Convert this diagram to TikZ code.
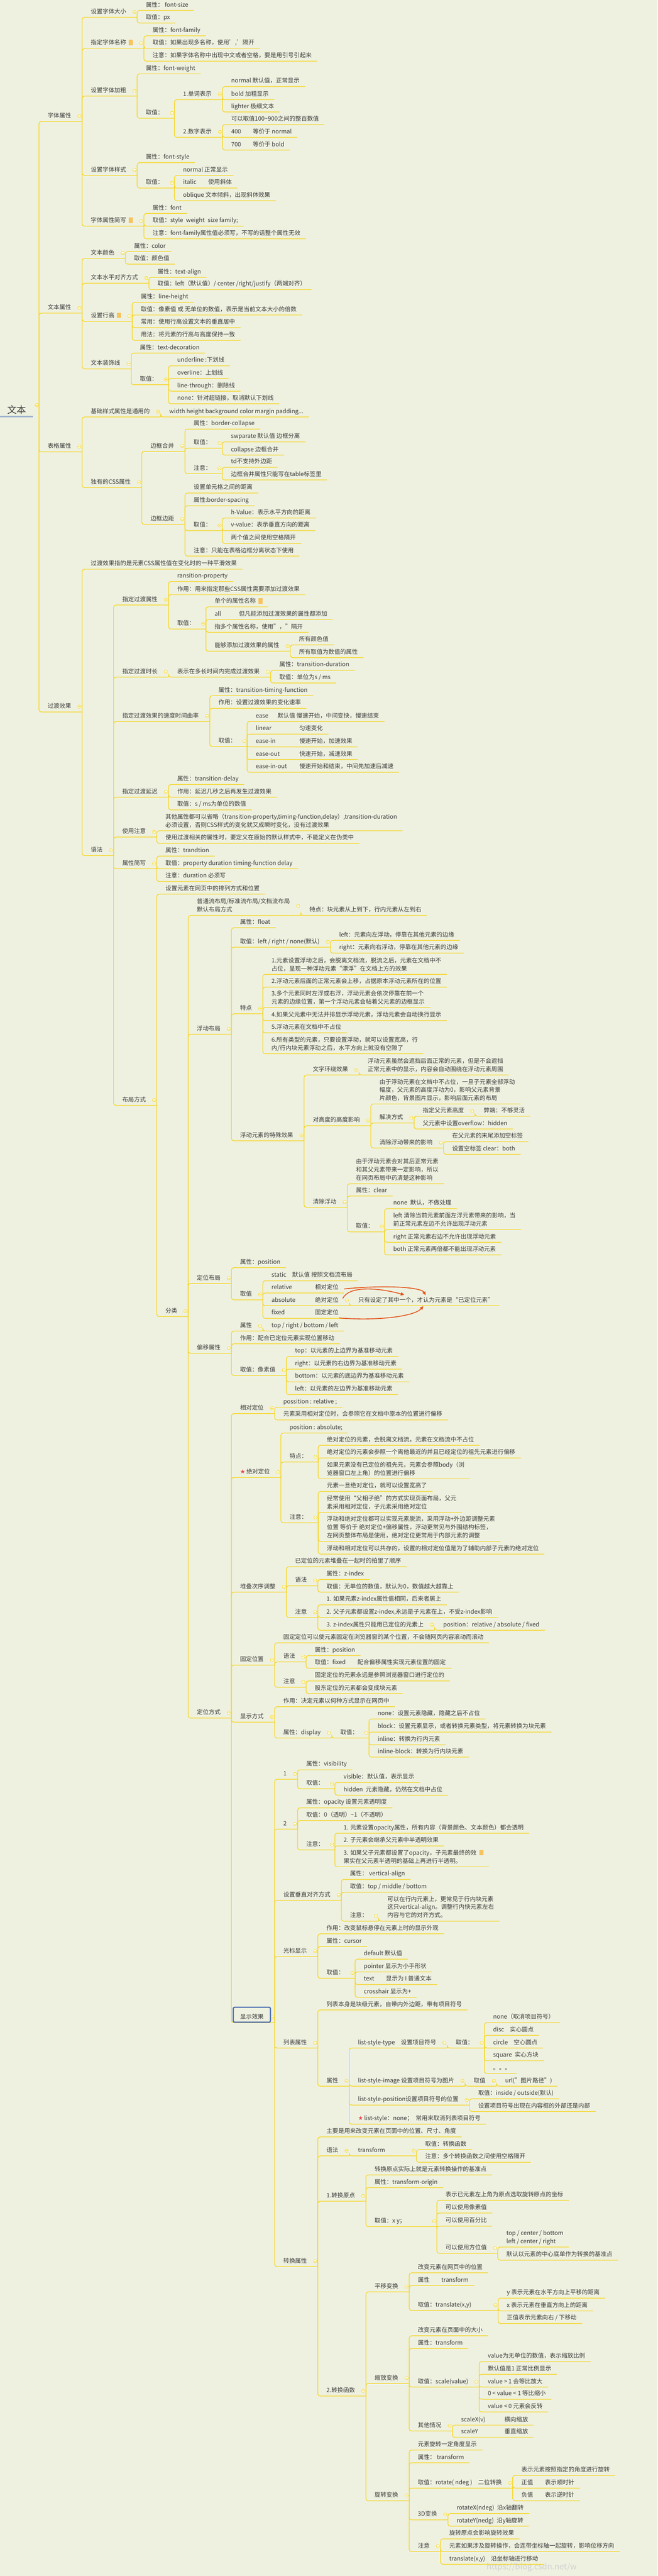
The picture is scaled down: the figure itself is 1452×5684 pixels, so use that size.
\documentclass[tikz,border=0pt]{standalone}
\usepackage{fontspec}
\setmainfont{Noto Sans CJK SC}
\newfontfamily\dejavu{DejaVu Sans}
\usetikzlibrary{calc,arrows.meta}
\definecolor{bgc}{HTML}{EEF1E0}
\definecolor{lnc}{HTML}{F7D51E}
\definecolor{txc}{HTML}{3A3A3A}
\definecolor{rootc}{HTML}{9FB3CF}
\definecolor{docc}{HTML}{F6C35C}
\definecolor{starc}{HTML}{E8474A}
\definecolor{arrc}{HTML}{E2541B}
\definecolor{boxc}{HTML}{4A6BB3}
\newcommand\docic{\hspace{6pt}{\color{docc}\rule[-1pt]{9pt}{12pt}}}
\newcommand\rstar{{\color{starc}\dejavu ★}\,}
\newcommand\Lf[4]{\path (0,-#3) coordinate (tmp);
 \node[mm] (#1) at (#2.south east |- tmp) {\hspace*{19pt}\begin{tabular}{@{}l@{}}#4\end{tabular}\hspace*{12pt}};
 \draw[ln] (#2.south east) -- (#1.south west) -- (#1.south east);}
\newcommand\Pn[4]{\path (0,-#3) coordinate (tmp);
 \node[mm] (#1) at (#2.south east |- tmp) {\hspace*{19pt}\begin{tabular}{@{}l@{}}#4\end{tabular}\hspace*{24pt}};
 \draw[ln] (#2.south east) -- (#1.south west) -- (#1.south east);
 \draw[circ] ($(#1.east)+(-6,0)$) circle (3.6);
 \draw[lnc,line width=0.7pt] ($(#1.east)+(-8,0)$) -- ++(4,0);}
\tikzset{
 mm/.style={anchor=south west,inner xsep=0pt,inner ysep=2.5pt,text=txc,font=\fontsize{13}{18}\selectfont},
 ln/.style={draw=lnc,line width=1.4pt,rounded corners=5pt},
 circ/.style={draw=lnc,fill=white,line width=0.8pt},
 redarr/.style={draw=arrc,line width=1.8pt,-{Triangle[length=8pt,width=7pt]}}
}
\begin{document}
\begin{tikzpicture}[x=1pt,y=1pt]
\fill[bgc] (0,0) rectangle (1452,-5684);
\useasboundingbox (0,0) rectangle (1452,-5684);
% root
\node[anchor=south west,inner sep=0pt,inner ysep=5pt,text=txc,font=\fontsize{21}{24}\selectfont] (r) at (0,-919) {\hspace*{16pt}文本\hspace*{28pt}};
\draw[rootc,line width=3.5pt] (r.south west) -- ++(73,0);
\draw[circ] (81,-894) circle (3.6);
\draw[lnc,line width=0.7pt] (79,-894) -- ++(4,0);
\coordinate (rs) at (86,-919);
% ---------- 字体属性
\Pn{A}{rs}{268}{字体属性}
\Pn{A1}{A}{38}{设置字体大小}
\Lf{A1a}{A1}{23}{属性： font-size}
\Lf{A1b}{A1}{51}{取值：px}
\Pn{A2}{A}{107}{指定字体名称\docic}
\Lf{A2a}{A2}{79}{属性：font-family}
\Lf{A2b}{A2}{107}{取值：如果出现多名称，使用','隔开}
\Lf{A2c}{A2}{135}{注意：如果字体名称中出现中文或者空格，要是用引号引起来}
\Pn{A3}{A}{212}{设置字体加粗}
\Lf{A3a}{A3}{163}{属性：font-weight}
\Pn{A3b}{A3}{261}{取值：}
\Pn{A3c}{A3b}{220}{1.单词表示}
\Lf{A3c1}{A3c}{191}{normal 默认值，正常显示}
\Lf{A3c2}{A3c}{220}{bold 加粗显示}
\Lf{A3c3}{A3c}{247}{lighter 极细文本}
\Pn{A3d}{A3b}{303}{2.数字表示}
\Lf{A3d1}{A3d}{275}{可以取值100\textasciitilde900之间的整百数值}
\Lf{A3d2}{A3d}{303}{400\qquad 等价于 normal}
\Lf{A3d3}{A3d}{331}{700\qquad 等价于 bold}
\Pn{A4}{A}{387}{设置字体样式}
\Lf{A4a}{A4}{359}{属性：font-style}
\Pn{A4b}{A4}{415}{取值：}
\Lf{A4b1}{A4b}{387}{normal 正常显示}
\Lf{A4b2}{A4b}{415}{italic\qquad 使用斜体}
\Lf{A4b3}{A4b}{443}{oblique 文本倾斜，出现斜体效果}
\Pn{A5}{A}{499}{字体属性简写\docic}
\Lf{A5a}{A5}{471}{属性：font}
\Lf{A5b}{A5}{499}{取值：style\enspace weight\enspace size family;}
\Lf{A5c}{A5}{527}{注意：font-family属性值必须写，不写的话整个属性无效}
% ---------- 文本属性
\Pn{B}{rs}{691}{文本属性}
\Pn{B1}{B}{570}{文本颜色}
\Lf{B1a}{B1}{555}{属性：color}
\Lf{B1b}{B1}{583}{取值：颜色值}
\Pn{B2}{B}{625}{文本水平对齐方式}
\Lf{B2a}{B2}{612}{属性：text-align}
\Lf{B2b}{B2}{639}{取值：left（默认值）/ center /right/justify（两端对齐）}
\Pn{B3}{B}{709}{设置行高\docic}
\Lf{B3a}{B3}{667}{属性：line-height}
\Lf{B3b}{B3}{695}{取值：像素值 或 无单位的数值，表示是当前文本大小的倍数}
\Lf{B3c}{B3}{723}{常用：使用行高设置文本的垂直居中}
\Lf{B3d}{B3}{751}{用法：将元素的行高与高度保持一致}
\Pn{B4}{B}{814}{文本装饰线}
\Lf{B4a}{B4}{779}{属性：text-decoration}
\Pn{B4b}{B4}{849}{取值：}
\Lf{B4b1}{B4b}{807}{underline :下划线}
\Lf{B4b2}{B4b}{835}{overline：上划线}
\Lf{B4b3}{B4b}{863}{line-through：删除线}
\Lf{B4b4}{B4b}{891}{none：针对超链接，取消默认下划线}
% ---------- 表格属性
\Pn{C}{rs}{997}{表格属性}
\Pn{C1}{C}{920}{基础样式属性是通用的}
\Lf{C1a}{C1}{920}{width height background color margin padding...}
\Pn{C2}{C}{1076}{独有的CSS属性}
\Pn{C21}{C2}{996}{边框合并}
\Lf{C21a}{C21}{947}{属性：border-collapse}
\Pn{C21b}{C21}{989}{取值：}
\Lf{C21b1}{C21b}{975}{swparate 默认值 边框分离}
\Lf{C21b2}{C21b}{1004}{collapse 边框合并}
\Pn{C21c}{C21}{1045}{注意：}
\Lf{C21c1}{C21c}{1031}{td不支持外边距}
\Lf{C21c2}{C21c}{1059}{边框合并属性只能写在table标签里}
\Pn{C22}{C2}{1157}{边框边距}
\Lf{C22a}{C22}{1088}{设置单元格之间的距离}
\Lf{C22b}{C22}{1116}{属性:border-spacing}
\Pn{C22c}{C22}{1171}{取值：}
\Lf{C22c1}{C22c}{1143}{h-Value：表示水平方向的距离}
\Lf{C22c2}{C22c}{1171}{v-value：表示垂直方向的距离}
\Lf{C22c3}{C22c}{1199}{两个值之间使用空格隔开}
\Lf{C22d}{C22}{1227}{注意：只能在表格边框分离状态下使用}
% ---------- 过渡效果
\Pn{D}{rs}{1571}{过渡效果}
\Lf{D0}{D}{1256}{过渡效果指的是元素CSS属性值在变化时的一种平滑效果}
\Pn{D1}{D}{1888}{语法}
\Pn{D11}{D1}{1335}{指定过渡属性}
\Lf{D11a}{D11}{1283}{ransition-property}
\Lf{D11b}{D11}{1312}{作用：用来指定那些CSS属性需要添加过渡效果}
\Pn{D11c}{D11}{1388}{取值：}
\Lf{D11c1}{D11c}{1339}{单个的属性名称\docic}
\Lf{D11c2}{D11c}{1367}{all\qquad\quad 但凡能添加过渡效果的属性都添加}
\Lf{D11c3}{D11c}{1395}{指多个属性名称，使用"，"隔开}
\Pn{D11c4}{D11c}{1437}{能够添加过渡效果的属性}
\Lf{D11c4a}{D11c4}{1423}{所有颜色值}
\Lf{D11c4b}{D11c4}{1451}{所有取值为数值的属性}
\Pn{D12}{D1}{1494}{指定过渡时长}
\Pn{D12a}{D12}{1494}{表示在多长时间内完成过渡效果}
\Lf{D12a1}{D12a}{1479}{属性：transition-duration}
\Lf{D12a2}{D12a}{1507}{取值：单位为s / ms}
\Pn{D13}{D1}{1592}{指定过渡效果的速度时间曲率}
\Lf{D13a}{D13}{1535}{属性：transition-timing-function}
\Lf{D13b}{D13}{1563}{作用：设置过渡效果的变化速率}
\Pn{D13c}{D13}{1647}{取值：}
\Lf{D13c1}{D13c}{1592}{\makebox[48pt][l]{ease}默认值 慢速开始，中间变快，慢速结束}
\Lf{D13c2}{D13c}{1620}{\makebox[96pt][l]{linear}匀速变化}
\Lf{D13c3}{D13c}{1648}{\makebox[96pt][l]{ease-in}慢速开始，加速效果}
\Lf{D13c4}{D13c}{1676}{\makebox[96pt][l]{ease-out}快速开始，减速效果}
\Lf{D13c5}{D13c}{1704}{\makebox[96pt][l]{ease-in-out}慢速开始和结束，中间先加速后减速}
\Pn{D14}{D1}{1759}{指定过渡延迟}
\Lf{D14a}{D14}{1731}{属性：transition-delay}
\Lf{D14b}{D14}{1759}{作用：延迟几秒之后再发生过渡效果}
\Lf{D14c}{D14}{1787}{取值：s / ms为单位的数值}
\Pn{D15}{D1}{1847}{使用注意}
\Lf{D15a}{D15}{1833}{其他属性都可以省略（transition-property,timing-function,delay）,transition-duration\\必须设置，否则CSS样式的变化就又成瞬时变化，没有过渡效果}
\Lf{D15b}{D15}{1861}{使用过渡相关的属性时，要定义在原始的默认样式中，不能定义在伪类中}
\Pn{D16}{D1}{1917}{属性简写}
\Lf{D16a}{D16}{1889}{属性：trandtion}
\Lf{D16b}{D16}{1917}{取值：property duration timing-function delay}
\Lf{D16c}{D16}{1945}{注意：duration 必须写}
% ---------- 布局方式
\Pn{E}{D1}{2439}{布局方式}
\Lf{E0}{E}{1973}{设置元素在网页中的排列方式和位置}
\Pn{F}{E}{2905}{分类}
\Pn{F1}{F}{2020}{普通流布局/标准流布局/文档流布局\\默认布局方式}
\Lf{F1a}{F1}{2020}{特点：块元素从上到下，行内元素从左到右}
\Pn{F2}{F}{2282}{浮动布局}
\Lf{F2a}{F2}{2047}{属性：float}
\Pn{F2b}{F2}{2090}{取值：left / right / none(默认)}
\Lf{F2b1}{F2b}{2075}{left：元素向左浮动，停靠在其他元素的边缘}
\Lf{F2b2}{F2b}{2103}{right：元素向右浮动，停靠在其他元素的边缘}
\Pn{F2c}{F2}{2237}{特点}
\Lf{F2c1}{F2c}{2150}{1.元素设置浮动之后，会脱离文档流，脱流之后，元素在文档中不\\占位，呈现一种浮动元素“漂浮”在文档上方的效果}
\Lf{F2c2}{F2c}{2178}{2.浮动元素后面的正常元素会上移，占据原本浮动元素所在的位置}
\Lf{F2c3}{F2c}{2223}{3.多个元素同时左浮或右浮，浮动元素会依次停靠在前一个\\元素的边缘位置，第一个浮动元素会帖着父元素的边框显示}
\Lf{F2c4}{F2c}{2252}{4.如果父元素中无法并排显示浮动元素，浮动元素会自动换行显示}
\Lf{F2c5}{F2c}{2279}{5.浮动元素在文档中不占位}
\Lf{F2c6}{F2c}{2325}{6.所有类型的元素，只要设置浮动，就可以设置宽高，行\\内/行内块元素浮动之后，水平方向上就没有空隙了}
\Pn{F2d}{F2}{2517}{浮动元素的特殊效果}
\Pn{F2d1}{F2d}{2372}{文字环绕效果}
\Lf{F2d1a}{F2d1}{2372}{浮动元素虽然会遮挡后面正常的元素，但是不会遮挡\\正常元素中的显示，内容会自动围绕在浮动元素周围}
\Pn{F2d2}{F2d}{2484}{对高度的高度影响}
\Lf{F2d2a}{F2d2}{2436}{由于浮动元素在文档中不占位，一旦子元素全部浮动\\幅度，父元素的高度浮动为0，影响父元素背景\\片颜色，背景图片显示，影响后面元素的布局}
\Pn{F2d2b}{F2d2}{2478}{解决方式}
\Pn{F2d2b1}{F2d2b}{2463}{指定父元素高度}
\Lf{F2d2b1a}{F2d2b1}{2463}{弊端：不够灵活}
\Lf{F2d2b2}{F2d2b}{2491}{父元素中设置overflow：hidden}
\Pn{F2d2c}{F2d2}{2533}{清除浮动带来的影响}
\Lf{F2d2c1}{F2d2c}{2519}{在父元素的末尾添加空标签}
\Lf{F2d2c2}{F2d2c}{2547}{设置空标签 clear：both}
\Pn{F2d3}{F2d}{2664}{清除浮动}
\Lf{F2d3a}{F2d3}{2612}{由于浮动元素会对其后正常元素\\和其父元素带来一定影响，所以\\在网页布局中药清楚这种影响}
\Lf{F2d3b}{F2d3}{2639}{属性：clear}
\Pn{F2d3c}{F2d3}{2718}{取值：}
\Lf{F2d3c1}{F2d3c}{2667}{none\enspace 默认，不做处理}
\Lf{F2d3c2}{F2d3c}{2713}{left 清除当前元素前面左浮元素带来的影响，当\\前正常元素左边不允许出现浮动元素}
\Lf{F2d3c3}{F2d3c}{2741}{right 正常元素右边不允许出现浮动元素}
\Lf{F2d3c4}{F2d3c}{2769}{both 正常元素两倍都不能出现浮动元素}
\Pn{F3}{F}{2832}{定位布局}
\Lf{F3a}{F3}{2797}{属性：position}
\Pn{F3b}{F3}{2868}{取值}
\Lf{F3b1}{F3b}{2826}{static\quad 默认值 按照文档流布局}
\Lf{relN}{F3b}{2853}{\makebox[96pt][l]{relative}相对定位}
\Pn{absN}{F3b}{2881}{\makebox[96pt][l]{absolute}绝对定位}
\Lf{absc}{absN}{2881}{只有设定了其中一个，才认为元素是“已定位元素”}
\Lf{fixN}{F3b}{2909}{\makebox[96pt][l]{fixed}固定定位}
\Pn{F4}{F}{2986}{偏移属性}
\Pn{F4a}{F4}{2937}{属性}
\Lf{F4a1}{F4a}{2937}{top / right / bottom / left}
\Lf{F4b}{F4}{2965}{作用：配合已定位元素实现位置移动}
\Pn{F4c}{F4}{3035}{取值：像素值}
\Lf{F4c1}{F4c}{2993}{top：以元素的上边界为基准移动元素}
\Lf{F4c2}{F4c}{3021}{right：以元素的右边界为基准移动元素}
\Lf{F4c3}{F4c}{3049}{bottom：以元素的底边界为基准移动元素}
\Lf{F4c4}{F4c}{3077}{left：以元素的左边界为基准移动元素}
% ---------- 定位方式
\Pn{G}{F}{3791}{定位方式}
\Pn{G1}{G}{3119}{相对定位}
\Lf{G1a}{G1}{3105}{possition : relative ;}
\Lf{G1b}{G1}{3133}{元素采用相对定位时，会参照它在文档中原本的位置进行偏移}
\Pn{G2}{G}{3260}{\rstar 绝对定位}
\Lf{G2a}{G2}{3162}{position : absolute;}
\Pn{G2b}{G2}{3226}{特点：}
\Lf{G2b1}{G2b}{3189}{绝对定位的元素，会脱离文档流，元素在文档流中不占位}
\Lf{G2b2}{G2b}{3217}{绝对定位的元素会参照一个离他最近的并且已经定位的祖先元素进行偏移}
\Lf{G2b3}{G2b}{3263}{如果元素没有已定位的祖先元，元素会参照body（浏\\览器窗口左上角）的位置进行偏移}
\Pn{G2c}{G2}{3360}{注意：}
\Lf{G2c1}{G2c}{3291}{元素一旦绝对定位，就可以设置宽高了}
\Lf{G2c2}{G2c}{3337}{经常使用“父相子绝”的方式实现页面布局，父元\\素采用相对定位，子元素采用绝对定位}
\Lf{G2c3}{G2c}{3401}{浮动和绝对定位都可以实现元素脱流，采用浮动+外边距调整元素\\位置 等价于 绝对定位+偏移属性，浮动更常见与外围结构标签，\\左网页整体布局是使用，绝对定位更常用于内部元素的调整}
\Lf{G2c4}{G2c}{3429}{浮动和相对定位可以共存的，设置的相对定位值是为了辅助内部子元素的绝对定位}
\Pn{G3}{G}{3513}{堆叠次序调整}
\Lf{G3a}{G3}{3457}{已定位的元素堆叠在一起时的拍里了顺序}
\Pn{G3b}{G3}{3499}{语法}
\Lf{G3b1}{G3b}{3485}{属性：z-index}
\Lf{G3b2}{G3b}{3513}{取值：无单位的数值，默认为0，数值越大越靠上}
\Pn{G3c}{G3}{3569}{注意}
\Lf{G3c1}{G3c}{3541}{1. 如果元素z-index属性值相同，后来者居上}
\Lf{G3c2}{G3c}{3569}{2. 父子元素都设置z-index,永远是子元素在上，不受z-index影响}
\Pn{G3c3}{G3c}{3597}{3. z-index属性只能用已定位的元素上}
\Lf{G3c3a}{G3c3}{3597}{position：relative / absolute / fixed}
\Pn{G4}{G}{3674}{固定位置}
\Lf{G4a}{G4}{3625}{固定定位可以使元素固定在浏览器窗的某个位置，不会随网页内容滚动而滚动}
\Pn{G4b}{G4}{3667}{语法}
\Lf{G4b1}{G4b}{3653}{属性：position}
\Lf{G4b2}{G4b}{3681}{取值：fixed\qquad 配合偏移属性实现元素位置的固定}
\Pn{G4c}{G4}{3723}{注意}
\Lf{G4c1}{G4c}{3709}{固定定位的元素永远是参照浏览器窗口进行定位的}
\Lf{G4c2}{G4c}{3737}{股东定位的元素都会变成块元素}
\Pn{G5}{G}{3800}{显示方式}
\Lf{G5a}{G5}{3766}{作用：决定元素以何种方式显示在网页中}
\Pn{G5b}{G5}{3835}{属性：display}
\Pn{G5c}{G5b}{3835}{取值：}
\Lf{G5c1}{G5c}{3793}{none：设置元素隐藏，隐藏之后不占位}
\Lf{G5c2}{G5c}{3822}{block：设置元素显示，或者转换元素类型，将元素转换为块元素}
\Lf{G5c3}{G5c}{3850}{inline：转换为行内元素}
\Lf{G5c4}{G5c}{3877}{inline-block：转换为行内块元素}
% ---------- 显示效果
\Pn{H}{G}{4463}{显示效果}
\draw[boxc,line width=2.6pt,rounded corners=3pt] ($(H.south west)+(4,1)$) rectangle ($(H.south west)+(86,34)$);
\Pn{H1}{H}{3926}{1}
\Lf{H1a}{H1}{3905}{属性：visibility}
\Pn{H1b}{H1}{3947}{取值：}
\Lf{H1b1}{H1b}{3933}{visible：默认值，表示显示}
\Lf{H1b2}{H1b}{3961}{hidden\enspace 元素隐藏，仍然在文档中占位}
\Pn{H2}{H}{4036}{2}
\Lf{H2a}{H2}{3989}{属性：opacity 设置元素透明度}
\Lf{H2b}{H2}{4017}{取值：0（透明）\textasciitilde 1（不透明）}
\Pn{H2c}{H2}{4082}{注意：}
\Lf{H2c1}{H2c}{4045}{1. 元素设置opacity属性，所有内容（背景颜色、文本颜色）都会透明}
\Lf{H2c2}{H2c}{4073}{2. 子元素会继承父元素中半透明效果}
\Lf{H2c3}{H2c}{4119}{3. 如果父子元素都设置了opacity，子元素最终的效\docic\\果实在父元素半透明的基础上再进行半透明。}
\Pn{H3}{H}{4193}{设置垂直对齐方式}
\Lf{H3a}{H3}{4147}{属性： vertical-align}
\Lf{H3b}{H3}{4175}{取值：top / middle / bottom}
\Pn{H3c}{H3}{4239}{注意：}
\Lf{H3c1}{H3c}{4239}{可以在行内元素上，更常见于行内块元素\\这只vertical-align。调整行内快元素左右\\内容与它的对齐方式。}
\Pn{H4}{H}{4317}{光标显示}
\Lf{H4a}{H4}{4267}{作用：改变鼠标悬停在元素上时的显示外观}
\Lf{H4b}{H4}{4295}{属性：cursor}
\Pn{H4c}{H4}{4365}{取值：}
\Lf{H4c1}{H4c}{4323}{default 默认值}
\Lf{H4c2}{H4c}{4351}{pointer 显示为小手形状}
\Lf{H4c3}{H4c}{4379}{text\qquad 显示为 I 普通文本}
\Lf{H4c4}{H4c}{4407}{crosshair 显示为+}
\Pn{H5}{H}{4519}{列表属性}
\Lf{H5a}{H5}{4435}{列表本身是块级元素，自带内外边距，带有项目符号}
\Pn{H5b}{H5}{4603}{属性}
\Pn{H5b1}{H5b}{4519}{list-style-type\quad 设置项目符号}
\Pn{H5b1a}{H5b1}{4519}{取值：}
\Lf{H5b1a1}{H5b1a}{4463}{none（取消项目符号）}
\Lf{H5b1a2}{H5b1a}{4491}{disc\quad 实心圆点}
\Lf{H5b1a3}{H5b1a}{4519}{circle\quad 空心圆点}
\Lf{H5b1a4}{H5b1a}{4547}{square\enspace 实心方块}
\Lf{H5b1a5}{H5b1a}{4575}{。。。}
\Pn{H5b2}{H5b}{4603}{list-style-image 设置项目符号为图片}
\Pn{H5b2a}{H5b2}{4603}{取值}
\Lf{H5b2a1}{H5b2a}{4603}{url("图片路径")}
\Pn{H5b3}{H5b}{4645}{list-style-position设置项目符号的位置}
\Lf{H5b3a}{H5b3}{4631}{取值：inside / outside(默认)}
\Lf{H5b3b}{H5b3}{4659}{设置项目符号出现在内容框的外部还是内部}
\Lf{H5b4}{H5b}{4687}{\rstar list-style：none；\enspace 常用来取消列表项目符号}
% ---------- 转换属性
\Pn{K}{H}{5001}{转换属性}
\Lf{K0}{K}{4715}{主要是用来改变元素在页面中的位置、尺寸、角度}
\Pn{K1}{K}{4757}{语法}
\Pn{K1a}{K1}{4757}{transform\hspace*{45pt}}
\Lf{K1a1}{K1a}{4743}{取值：转换函数}
\Lf{K1a2}{K1a}{4771}{注意：多个转换函数之间使用空格隔开}
\Pn{K2}{K}{4857}{1.转换原点}
\Lf{K2a}{K2}{4799}{转换原点实际上就是元素转换操作的基准点}
\Lf{K2b}{K2}{4827}{属性：transform-origin}
\Pn{K2c}{K2}{4913}{取值：x y；\hspace*{45pt}}
\Lf{K2c1}{K2c}{4855}{表示已元素左上角为原点选取旋转原点的坐标}
\Lf{K2c2}{K2c}{4883}{可以使用像素值}
\Lf{K2c3}{K2c}{4912}{可以使用百分比}
\Pn{K2c4}{K2c}{4972}{可以使用方位值}
\Lf{K2c4a}{K2c4}{4958}{top / center / bottom\\left / center / right}
\Lf{K2c4b}{K2c4}{4987}{默认以元素的中心底单作为转换的基准点}
\Pn{K3}{K}{5287}{2.转换函数}
\Pn{T1}{K3}{5057}{平移变换}
\Lf{T1a}{T1}{5015}{改变元素在网页中的位置}
\Lf{T1b}{T1}{5043}{属性\qquad transform}
\Pn{T1c}{T1}{5098}{取值：translate(x,y)\hspace*{35pt}}
\Lf{T1c1}{T1c}{5071}{y 表示元素在水平方向上平移的距离}
\Lf{T1c2}{T1c}{5099}{x 表示元素在垂直方向上的距离}
\Lf{T1c3}{T1c}{5127}{正值表示元素向右 / 下移动}
\Pn{T2}{K3}{5259}{缩放变换}
\Lf{T2a}{T2}{5154}{改变元素在页面中的大小}
\Lf{T2b}{T2}{5182}{属性：transform}
\Pn{T2c}{T2}{5267}{取值：scale(value)}
\Lf{T2c1}{T2c}{5211}{value为无单位的数值，表示缩放比例}
\Lf{T2c2}{T2c}{5239}{默认值是1 正常比例显示}
\Lf{T2c3}{T2c}{5267}{value > 1 会等比放大}
\Lf{T2c4}{T2c}{5294}{0 < value < 1 等比缩小}
\Lf{T2c5}{T2c}{5322}{value < 0 元素会反转}
\Pn{T2d}{T2}{5364}{其他情况}
\Lf{T2d1}{T2d}{5351}{\makebox[96pt][l]{scaleX(v)}横向缩放}
\Lf{T2d2}{T2d}{5378}{\makebox[96pt][l]{scaleY}垂直缩放}
\Pn{T3}{K3}{5518}{旋转变换}
\Lf{T3a}{T3}{5406}{元素旋转一定角度显示}
\Lf{T3b}{T3}{5434}{属性： transform}
\Pn{T3c}{T3}{5490}{取值：rotate( ndeg )\quad 二位转换}
\Lf{T3c1}{T3c}{5462}{表示元素按照指定的角度进行旋转}
\Lf{T3c2}{T3c}{5490}{正值\qquad 表示顺时针}
\Lf{T3c3}{T3c}{5518}{负值\qquad 表示逆时针}
\Pn{T3d}{T3}{5560}{3D变换}
\Lf{T3d1}{T3d}{5546}{rotateX(ndeg)\enspace 沿x轴翻转}
\Lf{T3d2}{T3d}{5574}{rotateY(nedg)\enspace 沿y轴旋转}
\Pn{T3e}{T3}{5630}{注意}
\Lf{T3e1}{T3e}{5602}{旋转原点会影响旋转效果}
\Lf{T3e2}{T3e}{5630}{元素如果涉及旋转操作，会连带坐标轴一起旋转，影响位移方向}
\Lf{T3e3}{T3e}{5658}{translate(x,y)\quad 沿坐标轴进行移动}
% red arrows
\coordinate (o) at (absc.south west);
\draw[redarr] ($(o)+(-12,37)$) .. controls ($(o)+(78,46)$) and ($(o)+(158,41)$) .. ($(o)+(168,23)$);
\draw[redarr] ($(o)+(-15,16)$) .. controls ($(o)+(-2,43)$) and ($(o)+(58,41)$) .. ($(o)+(121,24)$);
\draw[redarr] ($(o)+(-23,-27)$) .. controls ($(o)+(58,-34)$) and ($(o)+(143,-24)$) .. ($(o)+(163,-1)$);
% watermark
\node[anchor=west,text=black!18,font=\fontsize{18}{18}\selectfont\rmfamily] (wm) at (1071,-5665) {https://blog.csdn.net/w};
\end{tikzpicture}
\end{document}
